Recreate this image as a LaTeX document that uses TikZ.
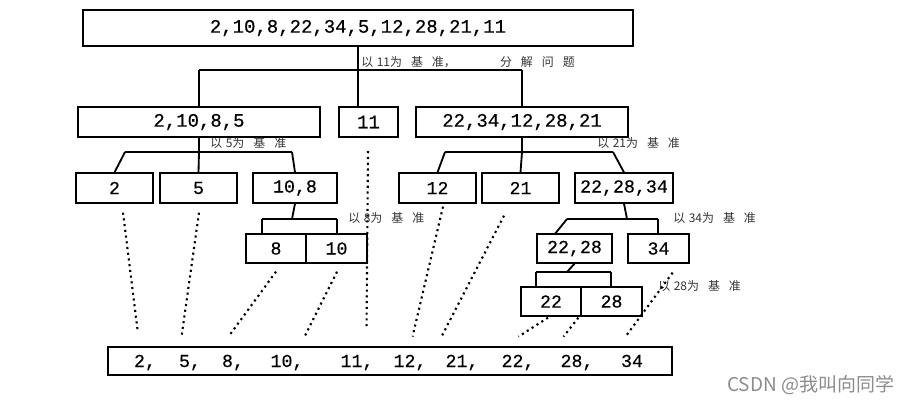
\documentclass[tikz,border=0pt]{standalone}
\usepackage{fontspec}
\newfontfamily\shuzi[FakeBold=0.4]{Liberation Mono}
\newfontfamily\cjk{Noto Sans CJK SC}
\newcommand{\kg}{\hspace{0.75em}}
\newcommand{\xkg}{\hspace{0.3em}}

\begin{document}
\begin{tikzpicture}[x=0.025cm,y=-0.025cm,
  dabox/.style={draw,line width=1.6pt,inner sep=0pt,minimum height=0.75cm,font=\shuzi\fontsize{13.5}{14}\selectfont},
  xiaobox/.style={draw,line width=0.9pt,inner sep=0pt,minimum height=0.75cm,font=\shuzi\fontsize{13}{14}\selectfont},
  xian/.style={line width=1.3pt},
  xu/.style={line width=1.5pt,dash pattern=on 1.5pt off 2.6pt},
  biao/.style={anchor=west,inner sep=0pt,text=black!80,font=\cjk\fontsize{8.5}{9}\selectfont},
  shu/.style={anchor=base,inner sep=0pt,font=\shuzi\fontsize{13}{14}\selectfont}]
  \useasboundingbox (0,0) rectangle (911,404);
  % 原始序列
  \node[dabox,line width=2pt,minimum width=13.75cm,minimum height=0.9cm] (top) at (358,28) {2,10,8,22,34,5,12,28,21,11};
  % 第一次分解
  \node[dabox,minimum width=6.05cm] (zuo) at (199,122) {2,10,8,5};
  \node[dabox,minimum width=1.475cm] (n11) at (368.5,122) {11};
  \node[dabox,minimum width=5.3cm] (you) at (522,122) {22,34,12,28,21};
  \coordinate (b1l) at (199,70);
  \coordinate (b1r) at (522,70);
  \draw[xian] (top.south) -- (top.south |- b1l);
  \draw[xian] (b1l) -- (b1r);
  \draw[xian] (b1l) -- (zuo.north);
  \draw[xian] (top.south |- b1l) -- (top.south |- n11.north);
  \draw[xian] (b1r) -- (you.north);
  \node[biao] (l11) at (361,62) {以\xkg 11为\kg 基\kg 准，\hspace{3.7em}分\kg 解\kg 问\kg 题};
  % 左边：以5为基准
  \node[xiaobox,minimum width=1.925cm] (n2) at (114.5,188) {2};
  \node[xiaobox,minimum width=1.925cm] (n5) at (198.5,188) {5};
  \node[xiaobox,minimum width=2.1cm] (n108) at (295,188) {10,8};
  \coordinate (b2l) at (125,152);
  \coordinate (b2r) at (292,152);
  \draw[xian] (zuo.south) -- (zuo.south |- b2l);
  \draw[xian] (b2l) -- (b2r);
  \draw[xian] (b2l) -- (n2.north);
  \draw[xian] (zuo.south |- b2l) -- (n5.north);
  \draw[xian] (b2r) -- (n108.north);
  \node[biao] (l5) at (210,143) {以\xkg 5为\kg 基\kg 准};
  % 以8为基准
  \node[xiaobox,minimum width=1.5cm,minimum height=0.725cm] (n8) at (276,248.5) {8};
  \node[xiaobox,minimum width=1.525cm,minimum height=0.725cm] (n10) at (336.5,248.5) {10};
  \coordinate (b4l) at (262,219);
  \coordinate (b4m) at (292,219);
  \coordinate (b4r) at (337,219);
  \draw[xian] (n108.south) -- (b4m);
  \draw[xian] (b4l) -- (b4r);
  \draw[xian] (b4l) -- (b4l |- n8.north);
  \draw[xian] (b4r) -- (b4r |- n10.north);
  \node[biao] (l8) at (348,218) {以\xkg 8为\kg 基\kg 准};
  % 右边：以21为基准
  \node[xiaobox,minimum width=1.925cm] (n12) at (437.5,188) {12};
  \node[xiaobox,minimum width=1.925cm] (n21) at (520.5,188) {21};
  \node[xiaobox,minimum width=2.45cm] (n222834) at (624,188) {22,28,34};
  \coordinate (b3l) at (445,152);
  \coordinate (b3r) at (613,152);
  \draw[xian] (you.south) -- (you.south |- b3l);
  \draw[xian] (b3l) -- (b3r);
  \draw[xian] (b3l) -- (n12.north);
  \draw[xian] (you.south |- b3l) -- (n21.north);
  \draw[xian] (b3r) -- (n222834.north);
  \node[biao] (l21) at (597,143) {以\xkg 21为\kg 基\kg 准};
  % 以34为基准
  \node[xiaobox,minimum width=1.875cm,minimum height=0.725cm] (n2228) at (574.5,248.5) {22,28};
  \node[xiaobox,minimum width=1.525cm,minimum height=0.725cm] (n34) at (658.5,248.5) {34};
  \coordinate (b5l) at (567,219);
  \coordinate (b5m) at (627,219);
  \coordinate (b5r) at (658,219);
  \draw[xian] (n222834.south) -- (b5m);
  \draw[xian] (b5l) -- (b5r);
  \draw[xian] (b5l) -- ([shift={(19,0)}]n2228.north west);
  \draw[xian] (b5r) -- (b5r |- n34.north);
  \node[biao] (l34) at (673,218) {以\xkg 34为\kg 基\kg 准};
  % 以28为基准
  \node[xiaobox,minimum width=1.5cm,minimum height=0.725cm] (n22) at (551,301.5) {22};
  \node[xiaobox,minimum width=1.525cm,minimum height=0.725cm] (n28) at (611.5,301.5) {28};
  \coordinate (b6l) at (536,272);
  \coordinate (b6m) at (567,272);
  \coordinate (b6r) at (611,272);
  \draw[xian] (n2228.south) -- (b6m);
  \draw[xian] (b6l) -- (b6r);
  \draw[xian] (b6l) -- (b6l |- n22.north);
  \draw[xian] (b6r) -- (b6r |- n28.north);
  \node[biao] (l28) at (658,286) {以\xkg 28为\kg 基\kg 准};
  % 结果
  \node[draw,line width=2pt,inner sep=0pt,minimum width=14.1cm,minimum height=0.7cm] (jieguo) at (390,361) {};
  \foreach \x/\t [count=\i] in {145/{2,},190/{5,},233/{8,},287/{10,},357/{11,},410/{12,},462/{21,},518/{22,},577/{28,},632/{34}}
    \node[shu] (r\i) at (\x,367) {\t};
  % 虚线
  \draw[xu] ([shift={(8.5,9)}]n2.south) -- ([shift={(31,-16)}]jieguo.north west);
  \draw[xu] ([shift={(0.5,9)}]n5.south) -- ([shift={(75,-9)}]jieguo.north west);
  \draw[xu] ([shift={(0,8)}]n8.south) -- ([shift={(122,-9)}]jieguo.north west);
  \draw[xu] ([shift={(0.5,8)}]n10.south) -- ([shift={(198,-9)}]jieguo.north west);
  \draw[xu] ([shift={(-0.5,13)}]n11.south) -- ([shift={(260,-17)}]jieguo.north west);
  \draw[xu] ([shift={(5.5,3)}]n12.south) -- ([shift={(306,-9)}]jieguo.north west);
  \draw[xu] ([shift={(-16.5,12)}]n21.south) -- ([shift={(335,-9)}]jieguo.north west);
  \draw[xu] ([shift={(-3,1)}]n22.south) -- ([shift={(412,-9)}]jieguo.north west);
  \draw[xu] ([shift={(-2,1)}]n28.south west) -- ([shift={(457,-9)}]jieguo.north west);
  \draw[xu] ([shift={(-17,9)}]n34.south east) -- ([shift={(519,-9)}]jieguo.north west);
  % 水印
  \node[anchor=west,inner sep=0pt,text=black!45,font=\cjk\fontsize{13.5}{14}\selectfont] (csdn) at (727,385) {CSDN @我叫向同学};
\end{tikzpicture}
\end{document}
